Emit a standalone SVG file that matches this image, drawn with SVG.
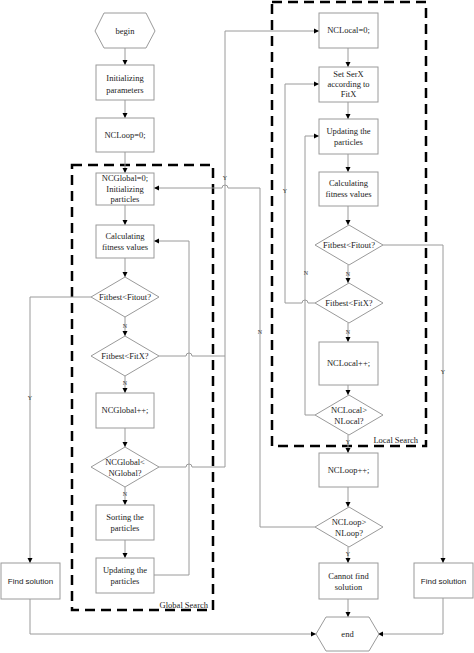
<svg xmlns="http://www.w3.org/2000/svg" width="474" height="653" viewBox="0 0 474 653">
<style>
.b{fill:#fff;stroke:#9a9a9a;stroke-width:1}
.t{font-family:"Liberation Serif","Times New Roman",serif;font-size:8.5px;fill:#222;text-anchor:middle}
.s{font-family:"Liberation Sans",Arial,sans-serif;font-size:8px;fill:#222;text-anchor:middle}
.l{font-family:"Liberation Serif","Times New Roman",serif;font-size:6px;fill:#333;text-anchor:middle}
.c{fill:none;stroke:#9a9a9a;stroke-width:1}
.a{marker-end:url(#ah)}
.d{fill:none;stroke:#000;stroke-width:2.5;stroke-dasharray:10 6}
.g{font-family:"Liberation Serif","Times New Roman",serif;font-size:8.5px;fill:#222;text-anchor:end}
</style>
<defs>
<marker id="ah" markerWidth="6" markerHeight="6" refX="5" refY="3" orient="auto" markerUnits="userSpaceOnUse">
<path d="M0,0.5 L5,3 L0,5.5 z" fill="#000"/>
</marker>
</defs>
<rect width="474" height="653" fill="#fff"/>

<g id="regions">
<rect class="d" x="72" y="165" width="141" height="445"/>
<text class="g" x="208" y="608">Global Search</text>
<rect class="d" x="272" y="2" width="154" height="444"/>
<text class="g" x="418" y="443">Local Search</text>
</g>

<g id="connectors">
<path class="c a" d="M125,48 V65"/>
<path class="c a" d="M125,100 V118"/>
<path class="c a" d="M125,152 V173"/>
<path class="c a" d="M125,205 V225"/>
<path class="c a" d="M125,258 V277"/>
<path class="c a" d="M125,317 V336"/>
<path class="c a" d="M125,376 V393"/>
<path class="c a" d="M125,428 V447"/>
<path class="c a" d="M125,487 V505"/>
<path class="c a" d="M125,540 V558"/>
<path class="c a" d="M154,575 H189 V241 H154"/>
<path class="c a" d="M91,297 H30 V563"/>
<path class="c a" d="M30,599 V634 H316"/>
<path class="c" d="M159,356 H186 A3,3 0 0 1 192,356 H225"/>
<path class="c" d="M159,467 H186 A3,3 0 0 1 192,467 H225"/>
<path class="c a" d="M225,467 V31 H319"/>
<path class="c a" d="M315,527 H260 V188 H228 A3,3 0 0 0 222,188 H154"/>
<path class="c a" d="M348,48 V67"/>
<path class="c a" d="M348,102 V119"/>
<path class="c a" d="M348,154 V172"/>
<path class="c a" d="M348,206 V225"/>
<path class="c a" d="M348,265 V283"/>
<path class="c a" d="M348,323 V342"/>
<path class="c a" d="M348,385 V395"/>
<path class="c a" d="M348,435 V453"/>
<path class="c a" d="M348,487 V507"/>
<path class="c a" d="M348,547 V563"/>
<path class="c a" d="M348,599 V617"/>
<path class="c a" d="M315,303 H308 A3,3 0 0 0 302,303 H285 V84 H319"/>
<path class="c a" d="M315,415 H305 V136 H319"/>
<path class="c a" d="M383,245 H443 V563"/>
<path class="c a" d="M443,598 V634 H378"/>
<text class="l" x="125" y="328">N</text>
<text class="l" x="125" y="385">N</text>
<text class="l" x="125" y="496">N</text>
<text class="l" x="30" y="400">Y</text>
<text class="l" x="225" y="180">Y</text>
<text class="l" x="260" y="334">N</text>
<text class="l" x="348" y="276">N</text>
<text class="l" x="348" y="334">N</text>
<text class="l" x="348" y="444">Y</text>
<text class="l" x="348" y="556">Y</text>
<text class="l" x="285" y="193">Y</text>
<text class="l" x="306" y="275">N</text>
<text class="l" x="443" y="374">Y</text>
</g>

<g id="begin">
<polygon class="b" points="95,31 104,13 146,13 155,31 146,48 104,48"/>
<text class="t" x="125" y="34">begin</text>
</g>
<g id="init-params">
<rect class="b" x="96" y="65" width="58" height="35"/>
<text class="t" x="125" y="81">Initializing</text>
<text class="t" x="125" y="93">parameters</text>
</g>
<g id="ncloop0">
<rect class="b" x="96" y="118" width="58" height="34"/>
<text class="t" x="125" y="138">NCLoop=0;</text>
</g>
<g id="ncglobal0">
<rect class="b" x="96" y="173" width="58" height="32"/>
<text class="t" x="125" y="181">NCGlobal=0;</text>
<text class="t" x="125" y="192">Initializing</text>
<text class="t" x="125" y="202">particles</text>
</g>
<g id="calc-g">
<rect class="b" x="96" y="225" width="58" height="33"/>
<text class="t" x="125" y="239">Calculating</text>
<text class="t" x="125" y="250">fitness values</text>
</g>
<g id="fitout-g">
<polygon class="b" points="91,297 125,277 159,297 125,317"/>
<text class="t" x="125" y="300">Fitbest&lt;Fitout?</text>
</g>
<g id="fitx-g">
<polygon class="b" points="91,356 125,336 159,356 125,376"/>
<text class="t" x="125" y="359">Fitbest&lt;FitX?</text>
</g>
<g id="ncglobalpp">
<rect class="b" x="96" y="393" width="58" height="35"/>
<text class="t" x="125" y="413">NCGlobal++;</text>
</g>
<g id="ncglobal-cmp">
<polygon class="b" points="91,467 125,447 159,467 125,487"/>
<text class="t" x="125" y="465">NCGlobal&lt;</text>
<text class="t" x="125" y="476">NGlobal?</text>
</g>
<g id="sorting">
<rect class="b" x="96" y="505" width="58" height="35"/>
<text class="t" x="125" y="520">Sorting the</text>
<text class="t" x="125" y="531">particles</text>
</g>
<g id="updating-g">
<rect class="b" x="96" y="558" width="58" height="35"/>
<text class="t" x="125" y="573">Updating the</text>
<text class="t" x="125" y="584">particles</text>
</g>
<g id="find-left">
<rect class="b" x="1" y="563" width="59" height="36"/>
<text class="s" x="30.5" y="584">Find solution</text>
</g>

<g id="nclocal0">
<rect class="b" x="319" y="13" width="59" height="35"/>
<text class="t" x="348.5" y="33">NCLocal=0;</text>
</g>
<g id="setserx">
<rect class="b" x="319" y="67" width="59" height="35"/>
<text class="t" x="348.5" y="77">Set SerX</text>
<text class="t" x="348.5" y="87">according to</text>
<text class="t" x="348.5" y="97">FitX</text>
</g>
<g id="updating-l">
<rect class="b" x="319" y="119" width="59" height="35"/>
<text class="t" x="348.5" y="134">Updating the</text>
<text class="t" x="348.5" y="145">particles</text>
</g>
<g id="calc-l">
<rect class="b" x="319" y="172" width="59" height="34"/>
<text class="t" x="348.5" y="186">Calculating</text>
<text class="t" x="348.5" y="197">fitness values</text>
</g>
<g id="fitout-l">
<polygon class="b" points="315,245 349,225 383,245 349,265"/>
<text class="t" x="349" y="248">Fitbest&lt;Fitout?</text>
</g>
<g id="fitx-l">
<polygon class="b" points="315,303 349,283 383,303 349,323"/>
<text class="t" x="349" y="306">Fitbest&lt;FitX?</text>
</g>
<g id="nclocalpp">
<rect class="b" x="319" y="342" width="59" height="43"/>
<text class="t" x="348.5" y="366">NCLocal++;</text>
</g>
<g id="nclocal-cmp">
<polygon class="b" points="315,415 349,395 383,415 349,435"/>
<text class="t" x="349" y="413">NCLocal&gt;</text>
<text class="t" x="349" y="424">NLocal?</text>
</g>
<g id="nclooppp">
<rect class="b" x="319" y="453" width="59" height="34"/>
<text class="t" x="348.5" y="473">NCLoop++;</text>
</g>
<g id="ncloop-cmp">
<polygon class="b" points="315,527 349,507 383,527 349,547"/>
<text class="t" x="349" y="525">NCLoop&gt;</text>
<text class="t" x="349" y="536">NLoop?</text>
</g>
<g id="cannot">
<rect class="b" x="319" y="563" width="59" height="36"/>
<text class="t" x="348.5" y="579">Cannot find</text>
<text class="t" x="348.5" y="590">solution</text>
</g>
<g id="find-right">
<rect class="b" x="414" y="563" width="59" height="35"/>
<text class="s" x="443.5" y="584">Find solution</text>
</g>
<g id="end">
<polygon class="b" points="316,634 326,617 369,617 379,634 369,651 326,651"/>
<text class="t" x="347.5" y="637">end</text>
</g>
</svg>
